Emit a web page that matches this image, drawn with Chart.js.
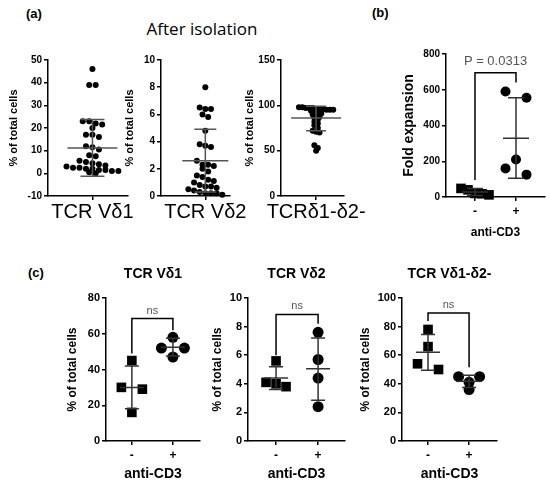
<!DOCTYPE html>
<html>
<head>
<meta charset="utf-8">
<script src="https://cdn.jsdelivr.net/npm/chart.js@4.4.1/dist/chart.umd.min.js"></script>
<style>
  body { margin: 0; background: #fff; width: 550px; height: 485px; position: relative; overflow: hidden;
         font-family: "Liberation Sans", Arial, sans-serif; }
  canvas { position: absolute; }
  .tag { position: absolute; font-weight: bold; font-size: 13px; color: #000; }
  .head { position: absolute; font-family: "Open Sans", Lato, sans-serif; font-size: 17px; text-align: center; color: #000; }
</style>
</head>
<body>
<div class="tag" style="left:26px;top:6px">(a)</div>
<div class="head" style="left:122px;top:17px;width:160px">After isolation</div>
<div class="tag" style="left:372px;top:5px">(b)</div>
<div class="tag" style="left:28px;top:265px">(c)</div>
<script>
// ---- data ----
// (a) after isolation, % of total cells
var isoCats = ['TCR Vδ1', 'TCR Vδ2', 'TCRδ1-δ2-'];
var isoVd1 = [46, 39, 39, 23, 23, 22, 21.5, 20, 17, 17, 16, 12, 11.5, 10.5, 8, 7.5, 5.5, 5, 4.5, 4, 3.5, 3,
              2.5, 2.5, 2, 2, 1.5, 1.5, 1, 1, 0.5, 0];
var isoVd2 = [8.0, 6.5, 6.4, 6.4, 6.0, 5.8, 4.8, 3.8, 3.7, 3.6, 2.6, 2.3, 2.3, 2.2, 2.0, 1.8, 1.5, 1.4, 1.2,
              1.1, 1.0, 0.8, 0.7, 0.7, 0.6, 0.5, 0.4, 0.3, 0.2, 0.2, 0.2, 0.1];
var isoDn = [98, 98, 97, 97, 97, 96, 96, 96, 95, 95, 95, 94, 93, 92, 91, 90, 88, 87, 86, 84, 82, 80, 78, 75,
             72, 71, 70, 56, 53, 50];
// mean, lower, upper (mean +/- SD as drawn)
var isoVd1Sd = [11.2, -1.3, 23.8];
var isoVd2Sd = [2.6, 0.3, 4.9];
var isoDnSd = [86, 72, 99];

// (b) fold expansion with / without anti-CD3
var stimCats = ['-', '+'];
var foldMinus = [48, 40, 20, 18, 12];
var foldPlus = [590, 555, 210, 160, 125];
var foldMinusSd = [28, 8, 48];
var foldPlusSd = [328, 105, 555];
var foldBracket = [95, 695, 640];   // left leg, top, right leg
var foldP = 'P = 0.0313';

// (c) % of total cells with / without anti-CD3
var cTitles = ['TCR Vδ1', 'TCR Vδ2', 'TCR Vδ1-δ2-'];
var vd1Minus = [45, 30, 29, 16], vd1Plus = [58, 52, 52, 47];
var vd1MinusSd = [30, 18, 42], vd1PlusSd = [52.5, 47.5, 57.5];
var vd1Bracket = [49, 68.5, 62];
var vd2Minus = [5.6, 4.1, 4.0, 3.8], vd2Plus = [7.6, 5.7, 4.4, 2.4];
var vd2MinusSd = [4.4, 3.6, 5.2], vd2PlusSd = [5.05, 2.85, 7.2];
var vd2Bracket = [6.0, 8.85, 8.2];
var dnMinus = [78, 66, 54, 50], dnPlus = [45, 45, 41, 36];
var dnMinusSd = [62, 49.5, 74.5], dnPlusSd = [41.75, 37.5, 46];
var dnBracket = [84, 89.5, 51.6];

var FONT = '"Liberation Sans", Arial, sans-serif';

// rows of a column scatter, centred like GraphPad does
function swarm(vals, pxPerY, rowH, gap) {
  var order = vals.map(function (v, i) { return i; }).sort(function (a, b) { return vals[b] - vals[a]; });
  var off = [], rows = [], cur = null;
  order.forEach(function (i) {
    if (!cur || (vals[cur[0]] - vals[i]) * pxPerY >= rowH) { cur = []; rows.push(cur); }
    cur.push(i);
  });
  rows.forEach(function (r) {
    r.forEach(function (i, k) { off[i] = (k - (r.length - 1) / 2) * gap; });
  });
  return off;
}

function decor(p) {
  return {
    id: 'decor',
    afterDatasetsDraw: function (chart) {
      var ctx = chart.ctx, xs = chart.scales.x, ys = chart.scales.y, a = chart.chartArea;
      ctx.save();
      ctx.lineWidth = 1.5;
      ctx.strokeStyle = p.barColor;
      p.groups.forEach(function (g, i) {
        var cx = xs.getPixelForValue(i);
        var m = ys.getPixelForValue(g.sd[0]), lo = ys.getPixelForValue(g.sd[1]), hi = ys.getPixelForValue(g.sd[2]);
        ctx.beginPath();
        ctx.moveTo(cx, lo); ctx.lineTo(cx, hi);
        ctx.moveTo(cx - p.cap, lo); ctx.lineTo(cx + p.cap, lo);
        ctx.moveTo(cx - p.cap, hi); ctx.lineTo(cx + p.cap, hi);
        ctx.moveTo(cx - p.mean, m); ctx.lineTo(cx + p.mean, m);
        ctx.stroke();
      });
      if (p.bracket) {
        var x0 = xs.getPixelForValue(0), x1 = xs.getPixelForValue(1);
        var top = ys.getPixelForValue(p.bracket[1]);
        ctx.strokeStyle = '#000';
        ctx.beginPath();
        ctx.moveTo(x0, ys.getPixelForValue(p.bracket[0]));
        ctx.lineTo(x0, top); ctx.lineTo(x1, top);
        ctx.lineTo(x1, ys.getPixelForValue(p.bracket[2]));
        ctx.stroke();
        ctx.fillStyle = '#555';
        ctx.font = p.noteFont;
        ctx.textAlign = 'center';
        ctx.textBaseline = 'middle';
        ctx.fillText(p.note, (x0 + x1) / 2, top - p.noteGap);
      }
      if (p.title) {
        ctx.fillStyle = '#000';
        ctx.font = 'bold 14px ' + FONT;
        ctx.textAlign = 'center';
        ctx.textBaseline = 'middle';
        ctx.fillText(p.title, (a.left + a.right) / 2, a.top - 24);
      }
      ctx.restore();
    }
  };
}

function panel(p) {
  var cv = document.createElement('canvas');
  cv.width = p.box[2]; cv.height = p.box[3];
  cv.style.left = p.box[0] + 'px'; cv.style.top = p.box[1] + 'px';
  cv.style.width = p.box[2] + 'px'; cv.style.height = p.box[3] + 'px';
  document.body.appendChild(cv);

  var areaW = p.box[2] - p.yw - p.padRight, areaH = p.box[3] - p.padTop - p.xh;
  var pxPerY = areaH / (p.yr[1] - p.yr[0]), pxPerX = areaW / (p.xr[1] - p.xr[0]);

  var datasets = p.groups.map(function (g, gi) {
    var off = swarm(g.vals, pxPerY, g.rowH || p.rowH, g.gap || p.gap);
    return {
      data: g.vals.map(function (v, k) { return { x: gi + off[k] / pxPerX, y: v }; }),
      pointStyle: g.shape, pointRadius: g.r, pointHoverRadius: g.r,
      backgroundColor: '#000', borderColor: '#000', borderWidth: 0, clip: false
    };
  });

  var axisGrid = { drawOnChartArea: false, color: '#000', lineWidth: 1.5, tickLength: 4 };
  var axisBorder = { color: '#000', width: 1.5 };

  return new Chart(cv, {
    type: 'scatter',
    data: { datasets: datasets },
    options: {
      responsive: false,
      animation: false,
      layout: { padding: { left: 0, top: p.padTop, right: p.padRight, bottom: 0 } },
      plugins: { legend: { display: false }, tooltip: { enabled: false } },
      scales: {
        x: {
          type: 'linear', min: p.xr[0], max: p.xr[1],
          afterBuildTicks: function (s) { s.ticks = p.cats.map(function (c, i) { return { value: i }; }); },
          afterFit: function (s) { s.height = p.xh; },
          ticks: {
            callback: function (v) { return p.cats[v]; },
            font: p.catFont, color: '#000', padding: p.catPad, autoSkip: false, maxRotation: 0, minRotation: 0
          },
          grid: axisGrid, border: axisBorder,
          title: p.xTitle ? { display: true, text: p.xTitle, color: '#000', font: p.xTitleFont, padding: 0 }
                          : { display: false }
        },
        y: {
          min: p.yr[0], max: p.yr[1],
          afterFit: function (s) { s.width = p.yw; },
          ticks: { stepSize: p.step, font: { family: FONT, size: p.tickSize, weight: 'bold' }, color: '#000', padding: 2 },
          grid: axisGrid, border: axisBorder,
          title: { display: true, text: p.yTitle, color: '#000', font: p.yTitleFont,
                   padding: { top: p.yTitlePad, bottom: 0 } }
        }
      }
    },
    plugins: [decor(p)]
  });
}

var isoFont = { family: FONT, size: 20 };
var pctFontA = { family: FONT, size: 11, weight: 'bold' };
var pctFontC = { family: FONT, size: 12, weight: 'bold' };
var stimFont = { family: FONT, size: 12, weight: 'bold' };

var aCommon = { padTop: 10, padRight: 10, xh: 30, catFont: isoFont, catPad: 0, tickSize: 10,
                yTitle: '% of total cells', yTitleFont: pctFontA, rowH: 5.5, gap: 6.5,
                barColor: '#555', cap: 12, mean: 25 };
var cCommon = { padTop: 40, padRight: 10, xh: 42, catFont: stimFont, catPad: 3, tickSize: 11,
                yTitle: '% of total cells', yTitleFont: pctFontC, xTitle: 'anti-CD3',
                xTitleFont: { family: FONT, size: 14, weight: 'bold' }, rowH: 5, gap: 21,
                barColor: '#333', cap: 7, mean: 12, note: 'ns', noteFont: '11px ' + FONT, noteGap: 8 };

function merge(base, extra) {
  var o = {};
  Object.keys(base).forEach(function (k) { o[k] = base[k]; });
  Object.keys(extra).forEach(function (k) { o[k] = extra[k]; });
  return o;
}

// (a)
panel(merge(aCommon, { box: [0, 50, 138, 176], yw: 48, xr: [-1, 0.795], yr: [-10, 50], step: 10, yTitlePad: 7,
  cats: [isoCats[0]], groups: [{ vals: isoVd1, sd: isoVd1Sd, shape: 'circle', r: 3 }] }));
panel(merge(aCommon, { box: [115, 50, 135, 176], yw: 46, xr: [-1, 0.548], yr: [0, 10], step: 2, yTitlePad: 8,
  cats: [isoCats[1]], mean: 23, cap: 11, groups: [{ vals: isoVd2, sd: isoVd2Sd, shape: 'circle', r: 3 }] }));
panel(merge(aCommon, { box: [235, 50, 135, 176], yw: 46, xr: [-1, 0.795], yr: [0, 150], step: 50, yTitlePad: 8,
  cats: [isoCats[2]], cap: 10, rowH: 3.5, gap: 4.3,
  groups: [{ vals: isoDn, sd: isoDnSd, shape: 'circle', r: 3 }] }));

// (b)
panel({ box: [370, 44, 183, 196], padTop: 10, padRight: 8, yw: 76, xh: 43, xr: [-0.707, 1.707], yr: [0, 800],
  step: 200, tickSize: 10, cats: stimCats, catFont: stimFont, catPad: 3,
  yTitle: 'Fold expansion', yTitleFont: { family: FONT, size: 14, weight: 'bold' }, yTitlePad: 31,
  xTitle: 'anti-CD3', xTitleFont: { family: FONT, size: 12, weight: 'bold' },
  rowH: 7, gap: 21, barColor: '#333', cap: 8, mean: 13,
  bracket: foldBracket, note: foldP, noteFont: '13px ' + FONT, noteGap: 11,
  groups: [{ vals: foldMinus, sd: foldMinusSd, shape: 'rect', r: 6.8, rowH: 10, gap: 7 },
           { vals: foldPlus, sd: foldPlusSd, shape: 'circle', r: 5 }] });

// (c)
panel(merge(cCommon, { box: [60, 258, 150, 225], yw: 46, xr: [-0.63, 1.66], yr: [0, 80], step: 20, yTitlePad: 5,
  cats: stimCats, title: cTitles[0], bracket: vd1Bracket,
  groups: [{ vals: vd1Minus, sd: vd1MinusSd, shape: 'rect', r: 6.8 },
           { vals: vd1Plus, sd: vd1PlusSd, shape: 'circle', r: 5.5, gap: 23 }] }));
panel(merge(cCommon, { box: [200, 258, 155, 225], yw: 48, xr: [-0.667, 1.64], yr: [0, 10], step: 2, yTitlePad: 10,
  cats: stimCats, title: cTitles[1], bracket: vd2Bracket,
  groups: [{ vals: vd2Minus, sd: vd2MinusSd, shape: 'rect', r: 6.8, gap: 10 },
           { vals: vd2Plus, sd: vd2PlusSd, shape: 'circle', r: 5.5 }] }));
panel(merge(cCommon, { box: [355, 258, 152, 225], yw: 47, xr: [-0.634, 1.68], yr: [0, 100], step: 20, yTitlePad: 3,
  cats: stimCats, title: cTitles[2], bracket: dnBracket,
  groups: [{ vals: dnMinus, sd: dnMinusSd, shape: 'rect', r: 6.8, rowH: 7 },
           { vals: dnPlus, sd: dnPlusSd, shape: 'circle', r: 5.5 }] }));
</script>
</body>
</html>
